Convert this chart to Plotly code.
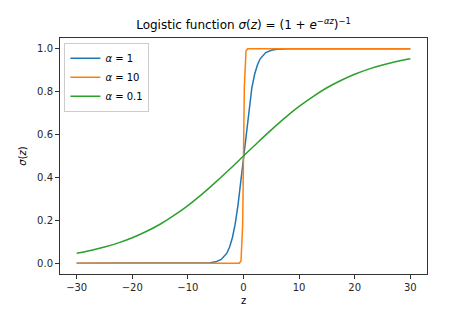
import plotly.graph_objects as go

# Values
z_green = [-30, -27.5, -25, -22.5, -20, -17.5, -15, -12.5, -10, -7.5, -5, -2.5, 0,
           2.5, 5, 7.5, 10, 12.5, 15, 17.5, 20, 22.5, 25, 27.5, 30]
s_green = [0.047, 0.060, 0.076, 0.095, 0.119, 0.148, 0.182, 0.223, 0.269, 0.321, 0.378, 0.438, 0.5,
           0.562, 0.622, 0.679, 0.731, 0.777, 0.818, 0.852, 0.881, 0.905, 0.924, 0.940, 0.953]

z_blue = [-30, -10, -8, -6, -5, -4, -3, -2.5, -2, -1.5, -1, -0.5, 0,
          0.5, 1, 1.5, 2, 2.5, 3, 4, 5, 6, 8, 10, 30]
s_blue = [0.0, 0.00005, 0.0003, 0.0025, 0.0067, 0.018, 0.047, 0.076, 0.119, 0.182, 0.269, 0.378, 0.5,
          0.622, 0.731, 0.818, 0.881, 0.924, 0.953, 0.982, 0.993, 0.9975, 0.9997, 0.99995, 1.0]

z_orange = [-30, -0.75, -0.45, -0.15, 0.15, 0.45, 0.75, 30]
s_orange = [0.0, 0.0005, 0.011, 0.18, 0.82, 0.989, 0.9995, 1.0]

series = [
    ("<i>α</i> = 1", z_blue, s_blue, "#1f77b4", "linear"),
    ("<i>α</i> = 10", z_orange, s_orange, "#ff7f0e", "linear"),
    ("<i>α</i> = 0.1", z_green, s_green, "#2ca02c", "spline"),
]

x_ticks = [-30, -20, -10, 0, 10, 20, 30]
x_tick_text = ["−30", "−20", "−10", "0", "10", "20", "30"]
y_ticks = [0.0, 0.2, 0.4, 0.6, 0.8, 1.0]
y_tick_text = ["0.0", "0.2", "0.4", "0.6", "0.8", "1.0"]

fig = go.Figure()
for name, xs, ys, color, shape in series:
    fig.add_trace(go.Scatter(x=xs, y=ys, mode="lines", name=name,
                             line=dict(color=color, width=1.5, shape=shape)))

font = "DejaVu Sans"
fig.update_layout(
    width=474, height=316,
    margin=dict(l=60, r=47, t=38, b=39),
    paper_bgcolor="white", plot_bgcolor="white",
    font=dict(family=font, size=10, color="#262626"),
    title=dict(text="Logistic function <i>σ</i>(<i>z</i>) = (1 + <i>e</i><sup>−<i>αz</i></sup>)<sup>−1</sup>",
               x=0.5, xanchor="center", xref="paper", y=0.92, yanchor="middle",
               font=dict(family=font, size=12, color="black")),
    legend=dict(x=0.012, y=0.98, xanchor="left", yanchor="top",
                bgcolor="rgba(255,255,255,0.8)", bordercolor="#cccccc", borderwidth=1,
                font=dict(family=font, size=10, color="black"),
                itemwidth=30, tracegroupgap=0),
    showlegend=True,
)
fig.update_xaxes(range=[-33, 33], tickvals=x_ticks, ticktext=x_tick_text,
                 showgrid=False, zeroline=False, showline=True, linecolor="#333333", linewidth=1,
                 mirror=True, ticks="outside", ticklen=4, tickcolor="#333333",
                 title=dict(text="z", standoff=4, font=dict(family=font, size=10, color="black")))
fig.update_yaxes(range=[-0.05, 1.05], tickvals=y_ticks, ticktext=y_tick_text,
                 showgrid=False, zeroline=False, showline=True, linecolor="#333333", linewidth=1,
                 mirror=True, ticks="outside", ticklen=4, tickcolor="#333333",
                 title=dict(text="<i>σ</i>(<i>z</i>)", standoff=8, font=dict(family=font, size=10, color="black")))

fig.write_html("out.html")
